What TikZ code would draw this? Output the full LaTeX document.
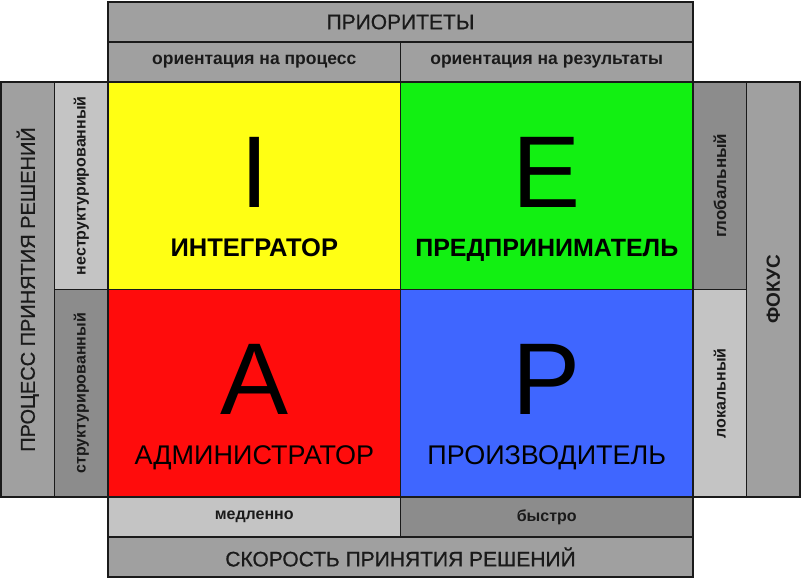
\documentclass[tikz,border=0pt]{standalone}
\usepackage{fontspec}
\setmainfont{Liberation Sans}
\newfontfamily\medfont[FakeBold=0.7]{Liberation Sans}
\usetikzlibrary{positioning}
\definecolor{integ}{HTML}{FFFF14}
\definecolor{entr}{HTML}{12F012}
\definecolor{admin}{HTML}{FF0C0C}
\definecolor{prod}{HTML}{3F66FF}
\definecolor{barmid}{HTML}{A0A0A0}
\definecolor{barlight}{HTML}{C4C4C4}
\definecolor{bardark}{HTML}{8C8C8C}
\definecolor{ink}{HTML}{1A1A1A}

\begin{document}
\begin{tikzpicture}[x=1pt,y=1pt,on grid,
    cell/.style={draw=ink,line width=1.2pt,outer sep=0pt,inner sep=0pt,text=ink},
    quad/.style={cell,minimum width=292.5pt,minimum height=207.5pt},
    head/.style={cell,fill=barmid,minimum width=585pt,minimum height=40pt,font=\medfont\fontsize{21}{21}\selectfont},
    sub/.style={cell,minimum width=292.5pt,minimum height=40pt,font=\bfseries\fontsize{16}{16}\selectfont},
    side/.style={cell,rotate=90,minimum width=207.5pt,minimum height=53.5pt,font=\bfseries\fontsize{16}{16}\selectfont},
    axis/.style={cell,rotate=90,fill=barmid,minimum width=415pt,minimum height=53.5pt},
    letter/.style={anchor=base,inner sep=0pt,font=\fontsize{102}{102}\selectfont},
    role/.style={anchor=base,inner sep=0pt,font=\fontsize{27}{27}\selectfont}]
    \useasboundingbox (0,0) rectangle (802,579);
    % quadrants
    \node[quad,fill=integ] (I) at (254.25,393.25) {};
    \node[quad,fill=entr]  (E) [right=292.5pt of I] {};
    \node[quad,fill=admin] (A) [below=207.5pt of I] {};
    \node[quad,fill=prod]  (P) [right=292.5pt of A] {};
    \node[letter] (Il) at ([yshift=-21.5pt]I.center) {I};
    \node[letter] (El) at ([yshift=-21.5pt]E.center) {E};
    \node[letter] (Al) at ([yshift=-21.5pt]A.center) {A};
    \node[letter] (Pl) at ([yshift=-21.5pt]P.center) {P};
    \node[role,font=\bfseries\fontsize{25.5}{25.5}\selectfont] (In) at ([yshift=-71pt]I.center) {ИНТЕГРАТОР};
    \node[role,font=\bfseries\fontsize{25}{25}\selectfont] (En) at ([yshift=-71pt]E.center) {ПРЕДПРИНИМАТЕЛЬ};
    \node[role] (An) at ([yshift=-71pt]A.center) {АДМИНИСТРАТОР};
    \node[role] (Pn) at ([yshift=-71pt]P.center) {ПРОИЗВОДИТЕЛЬ};
    % priorities
    \node[sub,fill=barmid,font=\bfseries\fontsize{17.5}{17.5}\selectfont] (proc) [above=123.75pt of I] {ориентация на процесс};
    \node[sub,fill=barmid,font=\bfseries\fontsize{17.5}{17.5}\selectfont] (res)  [above=123.75pt of E] {ориентация на результаты};
    \node[head,anchor=south west] (prio) at (proc.north west) {ПРИОРИТЕТЫ};
    % speed
    \node[sub,fill=barlight] (slow) [below=123.75pt of A] {медленно};
    \node[sub,fill=bardark]  (fast) [below=123.75pt of P] {быстро};
    \node[head,anchor=north west] (speed) at (slow.south west) {СКОРОСТЬ ПРИНЯТИЯ РЕШЕНИЙ};
    % decision process
    \node[side,fill=barlight] (unstr) [left=173pt of I] {неструктурированный};
    \node[side,fill=bardark]  (str)   [left=173pt of A] {структурированный};
    \node[axis,font=\medfont\fontsize{20}{20}\selectfont] (dproc) at (27.75,289.5) {ПРОЦЕСС ПРИНЯТИЯ РЕШЕНИЙ};
    % focus
    \node[side,fill=bardark,font=\bfseries\fontsize{17}{17}\selectfont] (glob) [right=173pt of E] {глобальный};
    \node[side,fill=barlight] (loc)  [right=173pt of P] {локальный};
    \node[axis,font=\bfseries\fontsize{19}{19}\selectfont] (focus) at (773.25,289.5) {ФОКУС};
\end{tikzpicture}
\end{document}
